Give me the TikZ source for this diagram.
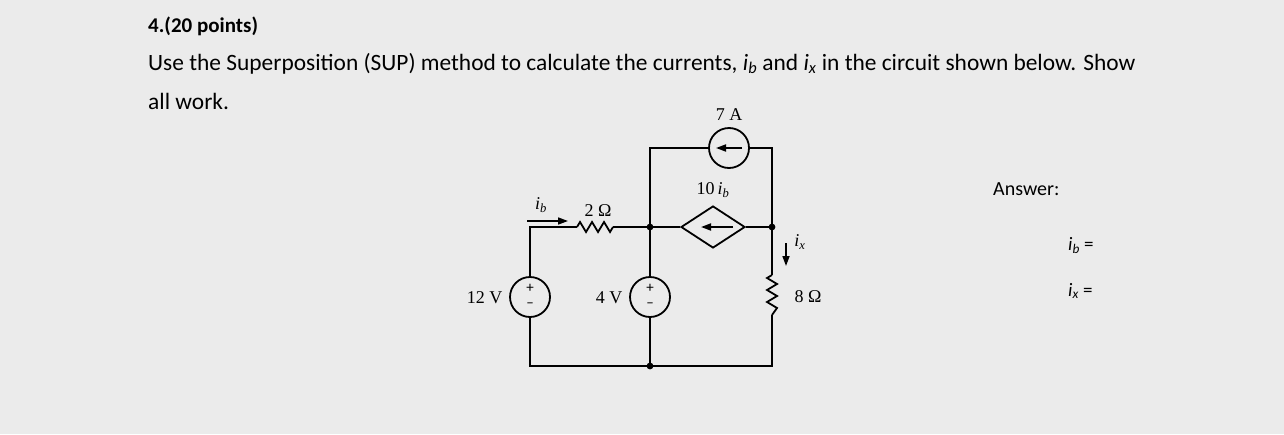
\documentclass[tikz,border=0pt]{standalone}
\usepackage{fontspec}
\setmainfont{Carlito}
\newfontfamily\ser{Liberation Serif}
\usetikzlibrary{shapes.geometric,arrows.meta}
\begin{document}
\begin{tikzpicture}[x=1pt,y=-1pt,
  wire/.style={line width=1.8pt},
  src/.style={circle,draw,line width=1.8pt,minimum size=40pt,inner sep=0pt},
  lbl/.style={font=\ser\fontsize{18}{18}\selectfont},
  txt/.style={anchor=base west,inner sep=0pt,font=\fontsize{23.4}{23.4}\selectfont}]
\fill[black!8] (0,0) rectangle (1284,434);
\useasboundingbox (0,0) rectangle (1284,434);
\node[txt,font=\bfseries\fontsize{21}{21}\selectfont] (h) at (148,32) {4.(20 points)};
\node[txt] (l1) at (148,70) {Use the Superposition (SUP) method to calculate the currents, \textit{i\textsubscript{b}} and \textit{i\textsubscript{x}} in the circuit shown below. Show};
\node[txt] (l2) at (148,109) {all work.};
\node[txt,font=\fontsize{20}{20}\selectfont] (ans) at (993,195) {Answer:};
\node[txt,font=\fontsize{19}{19}\selectfont] (a1) at (1068,250) {\textit{i\textsubscript{b}} =};
\node[txt,font=\fontsize{19}{19}\selectfont] (a2) at (1068,296) {\textit{i\textsubscript{x}} =};
\coordinate (tl) at (530,227); \coordinate (bl) at (530,366);
\coordinate (mt) at (650,148); \coordinate (mm) at (650,227); \coordinate (mb) at (650,366);
\coordinate (rt) at (772,148); \coordinate (rm) at (772,227); \coordinate (rb) at (772,366);
\node[src] (v12) at (530,297) {};
\node[src] (v4) at (650,297) {};
\node[src] (i7) at (729,148) {};
\node[diamond,draw,line width=1.8pt,minimum width=64pt,minimum height=42pt,inner sep=0pt] (dep) at (713,227) {};
\coordinate (r2a) at (577,227); \coordinate (r2b) at (613,227);
\coordinate (r8a) at (772,275); \coordinate (r8b) at (772,315);
\draw[wire] (v12.north) -- (tl) -- (r2a);
\draw[wire] (r2a) -- ++(3,-5) -- ++(6,10) -- ++(6,-10) -- ++(6,10) -- ++(6,-10) -- ++(6,10) -- (r2b);
\draw[wire] (r2b) -- (mm) -- (dep.west);
\draw[wire] (dep.east) -- (rm);
\draw[wire] (v12.south) -- (bl) -- (mb) -- (rb) -- (r8b);
\draw[wire] (v4.south) -- (mb);
\draw[wire] (v4.north) -- (mm) -- (mt) -- (i7.west);
\draw[wire] (i7.east) -- (rt) -- (rm) -- (r8a);
\draw[wire] (r8a) -- ++(-5,3) -- ++(10,6) -- ++(-10,6) -- ++(10,6) -- ++(-10,6) -- ++(10,6) -- (r8b);
\foreach \p in {mm,rm,mb} \fill (\p) circle (3.4pt);
\draw[line width=1.8pt,-{Triangle[length=10pt,width=7pt]}] ([xshift=13pt]i7.center) -- ([xshift=-13pt]i7.center);
\draw[line width=1.8pt,-{Triangle[length=10pt,width=7pt]}] ([xshift=20pt]dep.center) -- ([xshift=-12pt]dep.center);
\draw[line width=1.6pt,-{Triangle[length=10pt,width=7pt]}] (527,221) -- (568,221);
\draw[line width=1.6pt,-{Triangle[length=10pt,width=7pt]}] (786,243) -- (786,266);
\foreach \s in {v12,v4}{
 \node[font=\fontsize{15}{15}\selectfont] at ([yshift=9pt]\s.center) {+};
 \node[font=\fontsize{15}{15}\selectfont] at ([yshift=-8pt]\s.center) {–};}
\node[lbl] (t7) at (729,115) {7 A};
\node[lbl] (t10) at (713,190) {10\,\textit{i\textsubscript{b}}};
\node[lbl] (tib) at (541,205) {\textit{i\textsubscript{b}}};
\node[lbl] (t2) at (598,211) {2 Ω};
\node[lbl] (tix) at (800,242) {\textit{i\textsubscript{x}}};
\node[lbl] (t8) at (808,297) {8 Ω};
\node[lbl,anchor=east] (t12) at (506,298) {12 V};
\node[lbl,anchor=east] (t4) at (626,298) {4 V};
\end{tikzpicture}
\end{document}
